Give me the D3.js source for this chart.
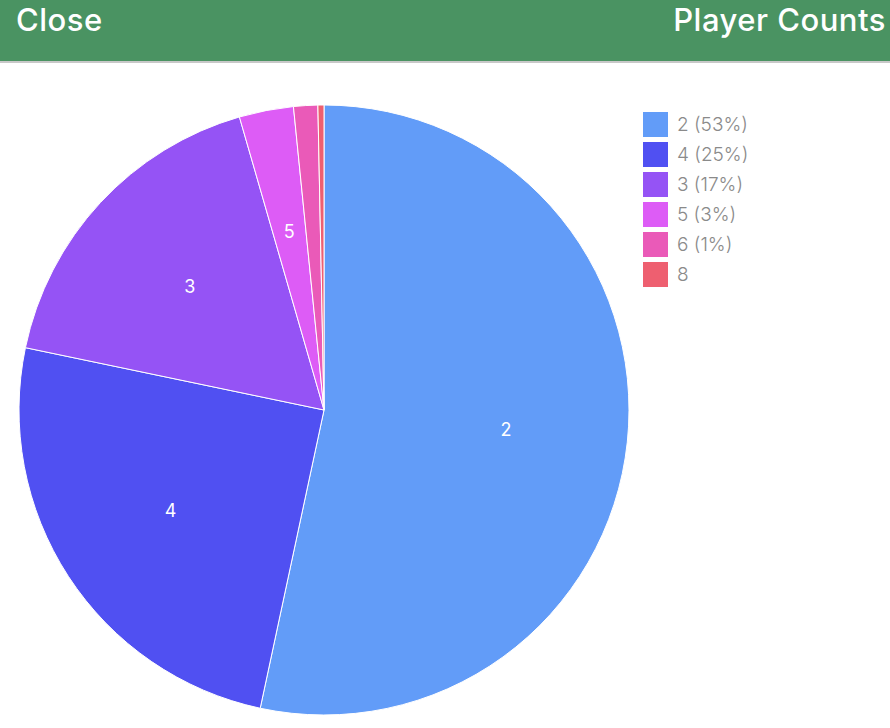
<!DOCTYPE html>
<html>
<head>
<meta charset="utf-8">
<script src="https://cdn.jsdelivr.net/npm/d3@7"></script>
<style>
  body { margin: 0; background: #fff; font-family: Inter, "Noto Sans", sans-serif; }
  svg { display: block; }
</style>
</head>
<body>
<svg width="890" height="728"></svg>
<script>
// player counts
const players = ["2", "4", "3", "5", "6", "8"];
const counts = [167, 78, 54, 9, 4, 1];
const colors = ["#629cf8", "#5050f2", "#9553f5", "#dd5cf6", "#ea5ab8", "#ee5f70"];

const svg = d3.select("svg");

// header bar
svg.append("rect").attr("x", 0).attr("y", 0).attr("width", 890).attr("height", 61).attr("fill", "#4a9362");
svg.append("rect").attr("x", 0).attr("y", 61).attr("width", 890).attr("height", 2).attr("fill", "#c8c8c8");
svg.append("text").attr("x", 16).attr("y", 30.5)
    .attr("fill", "#fff").attr("font-size", 31).attr("font-weight", 500)
    .attr("letter-spacing", 0.5)
    .text("Close");
svg.append("text").attr("x", 886).attr("y", 30.5).attr("text-anchor", "end")
    .attr("fill", "#fff").attr("font-size", 31).attr("font-weight", 500)
    .attr("letter-spacing", 0.5)
    .text("Player Counts");

var data = players.map((p, i) => ({player: p, count: counts[i], color: colors[i]}));
var total = d3.sum(counts);

var cx = 324, cy = 410, radius = 305;

var pie = d3.pie().sort(null).value(d => d.count);
var arc = d3.arc().innerRadius(0).outerRadius(radius);
var labelArc = d3.arc().innerRadius(radius * 0.6).outerRadius(radius * 0.6);

var g = svg.append("g").attr("transform", "translate(" + cx + "," + cy + ")");
var arcs = pie(data);

g.selectAll("path")
  .data(arcs)
  .enter().append("path")
    .attr("d", arc)
    .attr("fill", d => d.data.color)
    .attr("stroke", "#fff")
    .attr("stroke-width", 1);

// only label slices big enough
g.selectAll("text")
  .data(arcs.filter(d => d.data.count / total > 0.025))
  .enter().append("text")
    .attr("transform", d => "translate(" + labelArc.centroid(d) + ")")
    .attr("text-anchor", "middle")
    .attr("dy", "0.4em")
    .attr("fill", "#fff")
    .attr("font-size", 18)
    .text(d => d.data.player);

// legend
var legend = svg.append("g").attr("transform", "translate(643,112)");
var item = legend.selectAll("g")
  .data(data)
  .enter().append("g")
    .attr("transform", (d, i) => "translate(0," + i * 30 + ")");
item.append("rect").attr("width", 25).attr("height", 25).attr("fill", d => d.color);
item.append("text")
    .attr("x", 34).attr("y", 12.5).attr("dy", "0.35em")
    .attr("fill", "#8a8a8a").attr("font-size", 19).attr("font-weight", 300)
    .text(d => {
      var pct = Math.round(d.count / total * 100);
      return pct >= 1 ? d.player + " (" + pct + "%)" : d.player;
    });
</script>
</body>
</html>
